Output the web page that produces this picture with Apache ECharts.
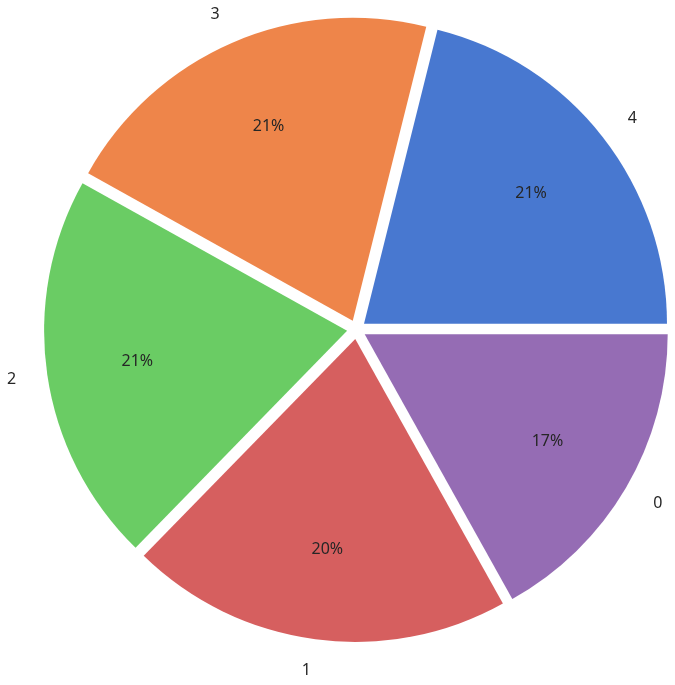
<!DOCTYPE html>
<html><head><meta charset="utf-8">
<script src="https://cdn.jsdelivr.net/npm/echarts@6/dist/echarts.min.js"></script>
<style>html,body{margin:0;padding:0;background:#fff}#c{width:675px;height:685px}</style>
</head><body><div id="c"></div>
<script>
const categories = ['0', '1', '2', '3', '4'];
const values = [16.9, 20.4, 20.8, 20.8, 21.1];
const colors = ['#956cb4', '#d65f5f', '#6acc64', '#ee854a', '#4878d0'];

const CX = 356.5, CY = 329.5, R = 303, EXPLODE = 9.5;
const PCT_DIST = 209, NAME_DIST = 331;
const total = values.reduce((a, b) => a + b, 0);
const font = { fontFamily: 'Noto Sans', fontSize: 16, color: '#262626' };

// side of each slice's mid-angle (right half => label extends rightwards)
const rightSide = (() => {
  let acc = 0;
  return values.map(v => {
    const mid = (acc + v / 2) / total * 2 * Math.PI; acc += v;
    return Math.cos(mid) >= 0;
  });
})();

function items(withColor) {
  return categories.map((c, i) => {
    const it = { name: c, value: values[i], selected: true };
    if (withColor) it.itemStyle = { color: colors[i] };
    return it;
  });
}

const base = {
  type: 'pie', center: [CX, CY], startAngle: 0, clockwise: true,
  selectedMode: 'multiple', selectedOffset: EXPLODE, silent: true,
  avoidLabelOverlap: false, labelLine: { show: false },
  emphasis: { disabled: true }, select: { itemStyle: { borderWidth: 0 } },
  animation: false
};

const chart = echarts.init(document.getElementById('c'));
chart.setOption({
  backgroundColor: '#fff',
  series: [
    Object.assign({}, base, {
      radius: [0, R], data: items(true),
      label: { show: false }
    }),
    Object.assign({}, base, {
      radius: [2 * PCT_DIST - R, R], data: items(false),
      itemStyle: { color: 'rgba(0,0,0,0)' },
      label: Object.assign({ show: true, position: 'inside',
        formatter: p => Math.round(p.value / total * 100) + '%' }, font)
    }),
    Object.assign({}, base, {
      radius: [R, 2 * NAME_DIST - R], data: items(false),
      itemStyle: { color: 'rgba(0,0,0,0)' },
      label: Object.assign({ show: true, position: 'inside',
        formatter: p => rightSide[p.dataIndex] ? '{p| }{n|' + p.name + '}' : '{n|' + p.name + '}{p| }',
        rich: { p: { width: 10 }, n: Object.assign({}, font) } }, font)
    })
  ]
});
</script></body></html>
